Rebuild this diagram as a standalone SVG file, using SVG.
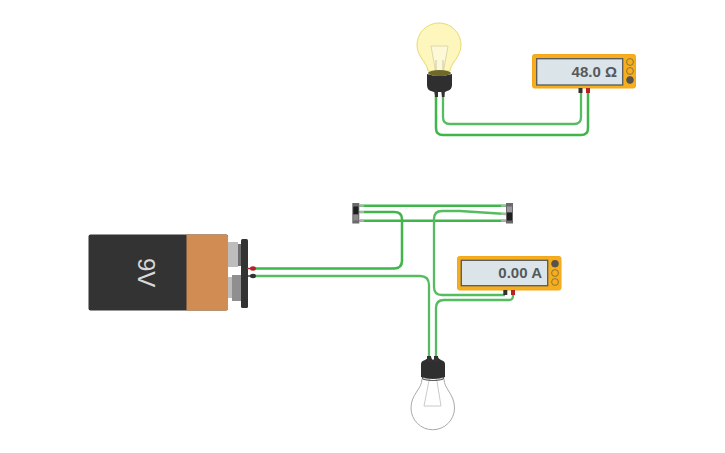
<svg xmlns="http://www.w3.org/2000/svg" width="725" height="453" viewBox="0 0 725 453">
<style>
.w{fill:none;stroke:#3fb54a;stroke-width:2.500}
.wl{fill:none;stroke:#55bd60;stroke-width:2.300}
.stub{stroke:#b0b0b0;stroke-width:2}
.mb{fill:#f7ae1c;stroke:#f2a81a;stroke-width:1}
.ms{fill:#dbe4e9;stroke:#55595c;stroke-width:1.300}
.mt{font-family:"Liberation Sans",Arial,sans-serif;font-weight:bold;font-size:15px;fill:#55595c;text-anchor:end}
.btn{fill:#f7ae1c;stroke:#6e6448;stroke-width:.8}
.btnd{fill:#55534c;stroke:#55534c;stroke-width:.8}
.rd{fill:#b92025}
.pin{fill:#333}
.plug{fill:#2f2f2f}
</style>
<g id="connectors">
<path class="wl" d="M443 96V117Q443 124 450 124H574Q581 124 581 117V93"/>
<path class="w" d="M436 96V128Q436 135 443 135H581Q588 135 588 128V93"/>
<path class="w" d="M254 268.500H394Q402 268.500 402 260.500V219Q402 212 394 212H360"/>
<path class="wl" d="M254 276H420Q429 276 429 285V357"/>
<path class="w" d="M360 205.700H506"/>
<path class="w" d="M360 220.700H506"/>
<path class="wl" d="M505 295H442Q434 295 434 287V219Q434 211 442 211H460L506 214"/>
<path class="wl" d="M436 357V308Q436 300 444 300H509Q513 300 513 296V293"/>
</g>
<g id="bulb-top">
<path d="M428 71C427 62 417 57 417 45A22 22 0 0 1 461 45C461 57 451 62 450 71Z" fill="#fdf6bd" stroke="#e8da72" stroke-width="1"/>
<path d="M431 46H448L443.500 71H435.500Z" fill="#fdf9d6" stroke="#d9d4a6" stroke-width=".9"/>
<path d="M436 60V72M443 60V72" stroke="#cfcdb0" stroke-width="1.200"/>
<ellipse cx="439.500" cy="73" rx="11.500" ry="3" fill="#6f6a2c"/>
<path class="plug" d="M427 74Q439 78 452 74V85Q452 90 447 91L445 92H434L431 91Q427 90 427 85Z"/>
<path class="pin" d="M434 90H438V97H435ZM441 90H445L444.500 97H442Z"/>
</g>
<g id="meter-ohm">
<rect class="mb" x="532.500" y="54.500" width="103" height="33.500" rx="2"/>
<rect class="ms" x="536.700" y="58.700" width="86" height="26.300"/>
<text class="mt" x="617" y="77">48.0 Ω</text>
<circle class="btn" cx="630" cy="62" r="3.400"/>
<circle class="btn" cx="630" cy="71" r="3.400"/>
<circle class="btnd" cx="630" cy="80" r="3.400"/>
<rect class="pin" x="578.500" y="88" width="4" height="5"/>
<rect class="rd" x="586" y="88" width="4" height="5"/>
</g>
<g id="battery">
<rect x="228" y="242" width="10" height="25" fill="#bdbdbd"/>
<rect x="238" y="244" width="3" height="22" fill="#6f6f6f"/>
<rect x="228" y="277" width="5" height="21" fill="#bdbdbd"/>
<rect x="232" y="275" width="9" height="26" fill="#8f8f8f"/>
<rect x="88.500" y="234.500" width="139.500" height="76" rx="2" fill="#333"/>
<path d="M186.500 234.500H226Q228 234.500 228 236.500V308.500Q228 310.500 226 310.500H186.500Z" fill="#d08c52"/>
<text x="146" y="272.700" transform="rotate(90 146 272.700)" font-family="'Liberation Sans',Arial,sans-serif" font-size="24" fill="#d8d8d8" text-anchor="middle" dominant-baseline="central">9V</text>
<rect x="241" y="239" width="7" height="69" rx="1.500" fill="#333"/>
<path d="M247 268.500H251" stroke="#b92025" stroke-width="1.400"/>
<ellipse class="rd" cx="253" cy="268.500" rx="3" ry="2.200"/>
<path d="M247 276H251" stroke="#333" stroke-width="1.400"/>
<ellipse class="pin" cx="253" cy="276" rx="3" ry="2.200"/>
</g>
<g id="switch-left">
<path class="stub" d="M359 205.700H364M359 212H364M359 220.700H364" fill="none"/>
<rect x="352.300" y="203" width="7" height="20.500" fill="#6a6a6a"/>
<rect x="353.300" y="206.500" width="5" height="8" fill="#1f1f1f"/>
<rect x="353.300" y="214.500" width="5" height="6" fill="#8a8a8a"/>
</g>
<g id="switch-right">
<path class="stub" d="M501 205.700H506M501 214H506M501 220.700H506" fill="none"/>
<rect x="506" y="203" width="7" height="20.500" fill="#6a6a6a"/>
<rect x="507" y="206.500" width="5" height="6" fill="#9a9a9a"/>
<rect x="507" y="212.500" width="5" height="8" fill="#1f1f1f"/>
</g>
<g id="meter-amp">
<rect class="mb" x="457.500" y="256.500" width="103.500" height="33.500" rx="2"/>
<rect class="ms" x="461.300" y="260.300" width="86.400" height="25.400"/>
<text class="mt" x="542" y="278">0.00 A</text>
<circle class="btnd" cx="555" cy="263.700" r="3.400"/>
<circle class="btn" cx="555" cy="273" r="3.400"/>
<circle class="btn" cx="555" cy="282" r="3.400"/>
<rect class="pin" x="503.300" y="290" width="4" height="5"/>
<rect class="rd" x="511" y="290" width="4" height="5"/>
</g>
<g id="bulb-bottom">
<path d="M422 379C422 389 411 394 411 408A21.700 21.700 0 0 0 454.500 408C454.500 394 444 389 444 379Z" fill="#fff" stroke="#aaa" stroke-width="1"/>
<path d="M424 406H441L436.500 378H429.500Z" fill="#fff" stroke="#c4c4c4" stroke-width=".9"/>
<path d="M430 368V381M436 368V381" stroke="#bbb" stroke-width="1"/>
<ellipse cx="433" cy="378" rx="11" ry="2.500" fill="none" stroke="#555" stroke-width="1"/>
<path class="plug" d="M421 364Q421 361 425 360L428 358H431L433 360L435 358H438L441 360Q445 361 445 364V377Q433 381 421 377Z"/>
<path class="pin" d="M427 356H431L432 362H427ZM434 356H438L439 362H434Z"/>
</g>
</svg>
